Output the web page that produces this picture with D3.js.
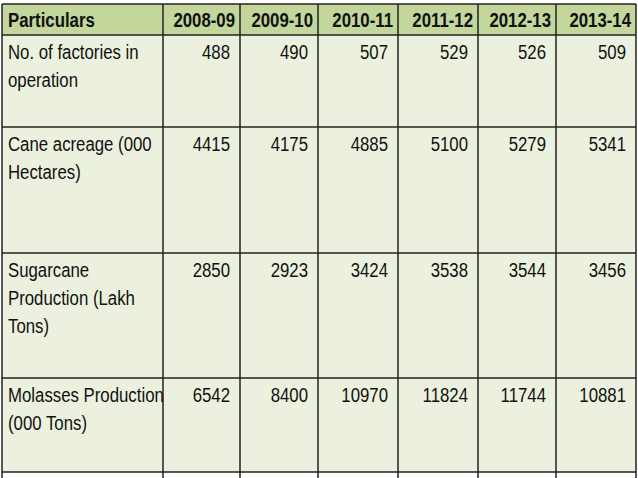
<!DOCTYPE html>
<html><head><meta charset="utf-8">
<script src="https://cdn.jsdelivr.net/npm/d3@7"></script>
<style>body{margin:0;background:#fff}</style>
</head><body>
<svg id="c" width="638" height="478"></svg>
<script>
const headers = ['Particulars', '2008-09', '2009-10', '2010-11', '2011-12', '2012-13', '2013-14'];
const particulars = [
  ['No. of factories in', 'operation'],
  ['Cane acreage (000', 'Hectares)'],
  ['Sugarcane', 'Production (Lakh', 'Tons)'],
  ['Molasses Production', '(000 Tons)']
];
const factories = [488, 490, 507, 529, 526, 509];
const acreage = [4415, 4175, 4885, 5100, 5279, 5341];
const production = [2850, 2923, 3424, 3538, 3544, 3456];
const molasses = [6542, 8400, 10970, 11824, 11744, 10881];
const rows = [factories, acreage, production, molasses];

const svg = d3.select('#c');
const font = '"Liberation Sans",Arial,sans-serif';
const colX = [2, 163, 240, 318, 398, 478, 556, 636];
const rowY = [4, 35, 127, 253, 378, 472];

// narrow text: squeeze horizontally
function txt(s, x, y, anchor, bold) {
  svg.append('text').text(s)
    .attr('transform', `translate(${x},${y}) scale(0.8,1)`)
    .attr('text-anchor', anchor)
    .attr('font-family', font).attr('font-size', 21)
    .attr('font-weight', bold ? 'bold' : 'normal').attr('fill', '#111');
}

headers.forEach((h, c) => {
  svg.append('rect').attr('x', colX[c]).attr('y', rowY[0])
    .attr('width', colX[c + 1] - colX[c]).attr('height', rowY[1] - rowY[0])
    .attr('fill', '#c3d69b');
});
rows.forEach((r, i) => {
  svg.append('rect').attr('x', colX[0]).attr('y', rowY[i + 1])
    .attr('width', colX[7] - colX[0]).attr('height', rowY[i + 2] - rowY[i + 1])
    .attr('fill', '#ebf1de');
});

const g = svg.append('g').attr('stroke', '#222').attr('stroke-width', 1.5);
colX.forEach(x => g.append('line').attr('x1', x).attr('x2', x).attr('y1', rowY[0]).attr('y2', 478));
rowY.forEach(y => g.append('line').attr('x1', colX[0]).attr('x2', colX[7]).attr('y1', y).attr('y2', y));

headers.forEach((h, c) => {
  txt(h, c === 0 ? colX[0] + 6 : colX[c + 1] - 5, rowY[0] + 23, c === 0 ? 'start' : 'end', true);
});

rows.forEach((r, i) => {
  const y0 = rowY[i + 1] + 24;
  particulars[i].forEach((line, k) => txt(line, colX[0] + 6, y0 + k * 28, 'start', false));
  r.forEach((v, c) => txt(v, colX[c + 2] - 10, y0, 'end', false));
});
</script>
</body></html>
